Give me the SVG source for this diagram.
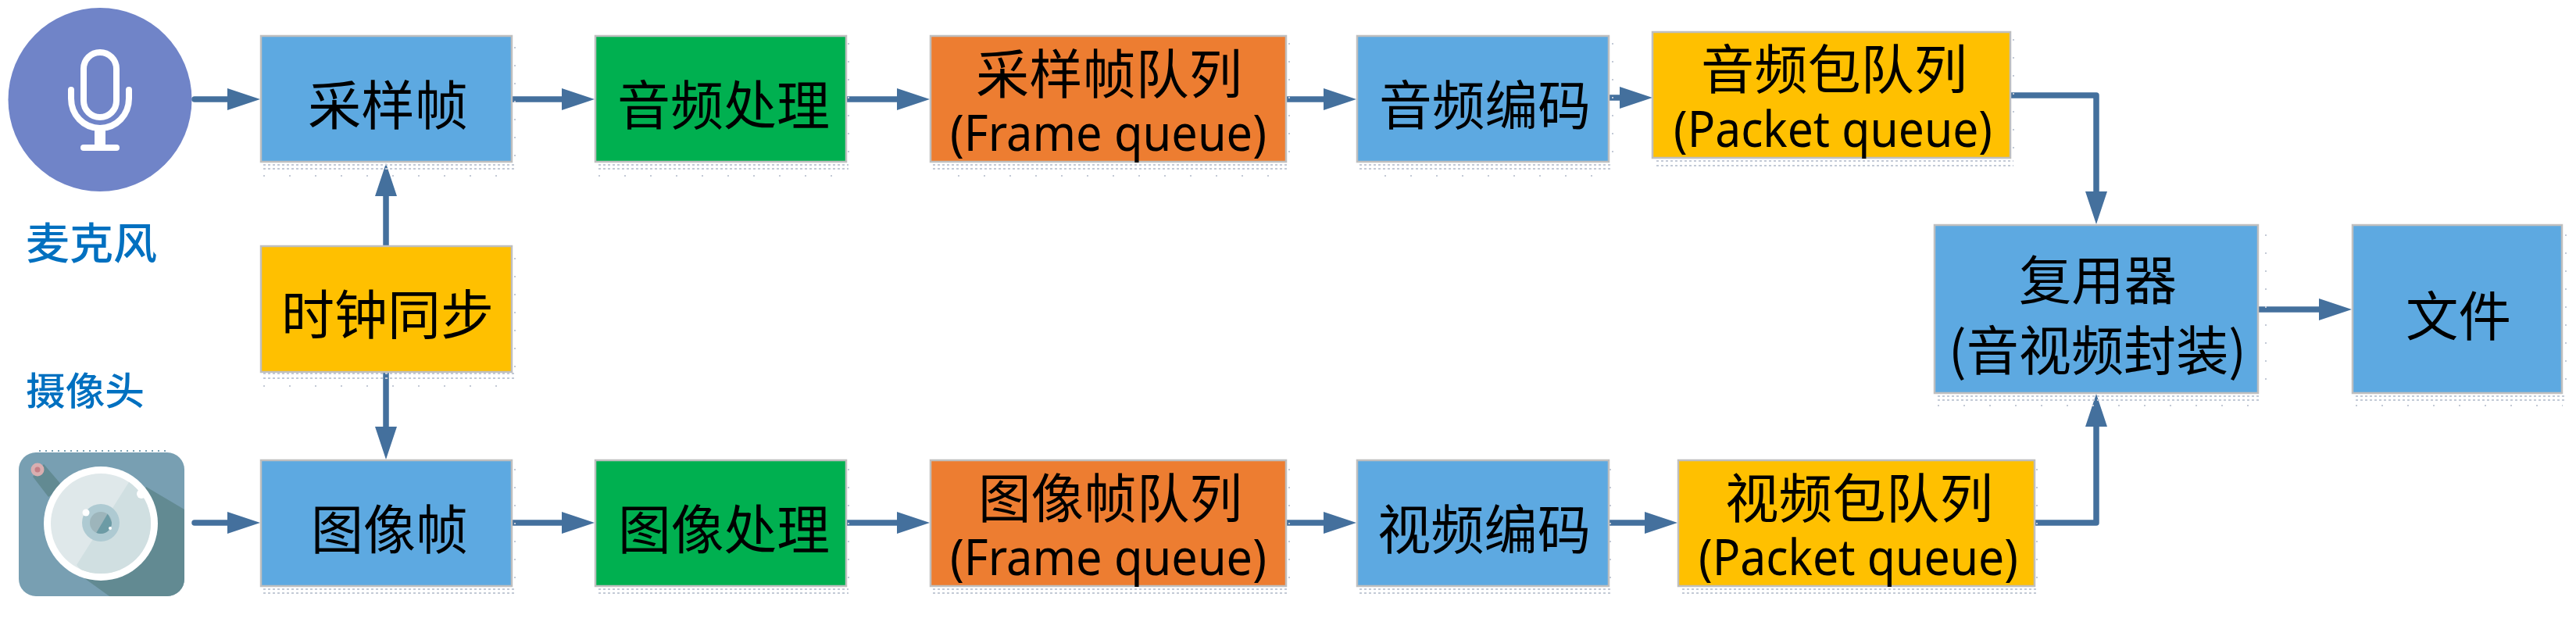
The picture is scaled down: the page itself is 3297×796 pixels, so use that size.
<svg xmlns="http://www.w3.org/2000/svg" width="3297" height="796" viewBox="0 0 3297 796">
<style>
.box{stroke:#BFBFBF;stroke-width:2.5}
.blue{fill:#5DA9E1}.green{fill:#00B050}.orange{fill:#ED7D31}.yellow{fill:#FFC000}
.cn{font-family:"Noto Sans CJK SC","Liberation Sans",sans-serif;font-size:68px;fill:#000}
.en{font-family:"Noto Sans","Open Sans",sans-serif;font-size:63px;fill:#000}
.cap{font-family:"Noto Sans CJK SC","Liberation Sans",sans-serif;font-weight:500;fill:#0070C0}
.conn{fill:none;stroke:#44709D;stroke-width:7.5;stroke-linecap:round;stroke-linejoin:round;marker-end:url(#head)}
.d1,.d2,.d3,.d4{fill:none;stroke:#C3CAD6;stroke-width:2}
.d1{stroke-dasharray:3 3}.d2{stroke-dasharray:2 6}.d3{stroke-dasharray:2 31}.d4{stroke-dasharray:2 21}
.icon{fill:none;stroke:#fff;stroke-width:8;stroke-linecap:round}
</style>
<defs>
<marker id="head" markerUnits="userSpaceOnUse" markerWidth="43" markerHeight="28" refX="0" refY="14" orient="auto">
<path d="M0 0L42 14L0 28z" fill="#44709D"/>
</marker>
<clipPath id="camClip"><rect x="24" y="579" width="212" height="184" rx="22"/></clipPath>
<clipPath id="discClip"><circle cx="129" cy="670" r="64"/></clipPath>
<clipPath id="pupilClip"><circle cx="129" cy="669" r="14"/></clipPath>
</defs>

<g id="microphone">
<circle cx="128" cy="127.5" r="117.5" fill="#7084C8"/>
<rect class="icon" x="107" y="67" width="42" height="83" rx="21"/>
<path class="icon" d="M91 115V126C91 147 107 164 128 164C149 164 165 147 165 126V115"/>
<path d="M128 164V188" fill="none" stroke="#fff" stroke-width="14"/>
<path class="icon" d="M107 189H149"/>
<text class="cap" x="33" y="331" font-size="55" textLength="168" lengthAdjust="spacingAndGlyphs">麦克风</text>
</g>

<g id="camera">
<text class="cap" x="33" y="518" font-size="49" textLength="152" lengthAdjust="spacingAndGlyphs">摄像头</text>
<path class="d2" d="M50 577H212" style="stroke:#789FB2"/>
<rect x="24" y="579" width="212" height="184" rx="22" fill="#789FB2"/>
<g clip-path="url(#camClip)">
<path d="M187 623L236 652V763H140L108 740z" fill="#628A92"/>
<path d="M42 610L56 594L80 622L62 636z" fill="#628A92"/>
</g>
<circle cx="48" cy="601" r="8.5" fill="#D9AEB0"/>
<circle cx="48" cy="601" r="3.5" fill="#C47F86"/>
<circle cx="129" cy="670" r="73" fill="#fff"/>
<circle cx="129" cy="670" r="64" fill="#DFE8EA"/>
<path d="M165 617L98 723L130 760L220 720V620z" clip-path="url(#discClip)" fill="#D0DFE1"/>
<circle cx="129" cy="669" r="24" fill="#AECAD2"/>
<circle cx="129" cy="669" r="14" fill="#9DB5BB"/>
<path d="M138 657L122 684L150 684z" clip-path="url(#pupilClip)" fill="#6C9BA5"/>
<circle cx="110" cy="656" r="4.5" fill="#fff"/>
<circle cx="141" cy="676" r="2" fill="#fff"/>
<circle cx="181" cy="632" r="6" fill="#fff"/>
</g>

<g id="connectors">
<path class="conn" d="M249 127H291"/>
<path class="conn" d="M655 127H719"/>
<path class="conn" d="M1083 127H1148"/>
<path class="conn" d="M1645 127H1694"/>
<path class="conn" d="M2058 125H2073"/>
<path class="conn" d="M2573 122H2683V245"/>
<path class="conn" d="M249 669H291"/>
<path class="conn" d="M655 669H719"/>
<path class="conn" d="M1083 669H1148"/>
<path class="conn" d="M1645 669H1694"/>
<path class="conn" d="M2059 669H2105"/>
<path class="conn" d="M2604 669H2683V546"/>
<path class="conn" d="M494 316V251"/>
<path class="conn" d="M494 476V546"/>
<path class="conn" d="M2889 396H2968"/>
</g>

<g id="sample-frame">
<path class="d1" d="M337 211H660M337 216H660"/><path class="d3" d="M337 225H645"/><path class="d4" d="M659 60V200"/>
<rect class="box blue" x="334" y="46" width="321" height="161"/>
<text class="cn" x="394" y="160" textLength="205" lengthAdjust="spacingAndGlyphs">采样帧</text>
</g>
<g id="audio-process">
<path class="d1" d="M766 211H1086M766 216H1086"/><path class="d3" d="M766 225H1075"/><path class="d4" d="M1086 55V200"/>
<rect class="box green" x="762" y="46" width="321" height="161"/>
<text class="cn" x="790" y="160" textLength="272" lengthAdjust="spacingAndGlyphs">音频处理</text>
</g>
<g id="sample-queue">
<path class="d1" d="M1194 211H1650M1194 216H1650"/><path class="d3" d="M1226 225H1630"/><path class="d4" d="M1650 55V200"/>
<rect class="box orange" x="1191" y="46" width="455" height="161"/>
<text class="cn" x="1249" y="120" textLength="341" lengthAdjust="spacingAndGlyphs">采样帧队列</text>
<text class="en" x="1216" y="193" textLength="405" lengthAdjust="spacingAndGlyphs">(Frame queue)</text>
</g>
<g id="audio-encode">
<path class="d1" d="M1740 211H2063M1740 216H2063"/><path class="d3" d="M1772 225H2045"/><path class="d4" d="M2064 55V200"/>
<rect class="box blue" x="1737" y="46" width="322" height="161"/>
<text class="cn" x="1765" y="160" textLength="271" lengthAdjust="spacingAndGlyphs">音频编码</text>
</g>
<g id="audio-packet-queue">
<path class="d1" d="M2120 206H2577M2120 212H2577"/><path class="d4" d="M2577 50V195"/>
<rect class="box yellow" x="2115" y="41" width="458" height="161"/>
<text class="cn" x="2177" y="114" textLength="341" lengthAdjust="spacingAndGlyphs">音频包队列</text>
<text class="en" x="2142" y="188" textLength="408" lengthAdjust="spacingAndGlyphs">(Packet queue)</text>
</g>
<g id="clock-sync">
<path class="d1" d="M337 478H660M337 484H660"/><path class="d3" d="M337 494H645"/><path class="d4" d="M659 330V470"/>
<rect class="box yellow" x="334" y="315" width="321" height="161"/>
<text class="cn" x="360" y="428" textLength="272" lengthAdjust="spacingAndGlyphs">时钟同步</text>
</g>
<g id="image-frame">
<path class="d1" d="M337 754H660M337 759H660"/><path class="d4" d="M659 600V745"/>
<rect class="box blue" x="334" y="589" width="321" height="161"/>
<text class="cn" x="398" y="703" textLength="201" lengthAdjust="spacingAndGlyphs">图像帧</text>
</g>
<g id="image-process">
<path class="d1" d="M766 754H1086M766 759H1086"/><path class="d4" d="M1086 600V745"/>
<rect class="box green" x="762" y="589" width="321" height="161"/>
<text class="cn" x="791" y="703" textLength="271" lengthAdjust="spacingAndGlyphs">图像处理</text>
</g>
<g id="image-queue">
<path class="d1" d="M1194 754H1650M1194 759H1650"/><path class="d4" d="M1650 600V745"/>
<rect class="box orange" x="1191" y="589" width="455" height="161"/>
<text class="cn" x="1252" y="663" textLength="338" lengthAdjust="spacingAndGlyphs">图像帧队列</text>
<text class="en" x="1216" y="736" textLength="405" lengthAdjust="spacingAndGlyphs">(Frame queue)</text>
</g>
<g id="video-encode">
<path class="d1" d="M1740 754H2063M1740 759H2063"/><path class="d4" d="M2061 600V745"/>
<rect class="box blue" x="1737" y="589" width="322" height="161"/>
<text class="cn" x="1763" y="703" textLength="273" lengthAdjust="spacingAndGlyphs">视频编码</text>
</g>
<g id="video-packet-queue">
<path class="d1" d="M2153 754H2608M2153 759H2608"/><path class="d4" d="M2607 600V745"/>
<rect class="box yellow" x="2148" y="589" width="456" height="161"/>
<text class="cn" x="2208" y="663" textLength="343" lengthAdjust="spacingAndGlyphs">视频包队列</text>
<text class="en" x="2174" y="736" textLength="409" lengthAdjust="spacingAndGlyphs">(Packet queue)</text>
</g>
<g id="muxer">
<path class="d1" d="M2480 507H2892M2480 512H2892"/><path class="d3" d="M2480 519H2890"/><path class="d4" d="M2900 300V500"/>
<rect class="box blue" x="2476" y="288" width="414" height="215"/>
<text class="cn" x="2584" y="384" textLength="202" lengthAdjust="spacingAndGlyphs">复用器</text>
<text class="cn" x="2494" y="474" textLength="381" lengthAdjust="spacingAndGlyphs">(音视频封装)</text>
</g>
<g id="file">
<path class="d1" d="M3015 507H3284M3015 512H3284"/><path class="d3" d="M3015 519H3280"/><path class="d4" d="M3284 300V500"/>
<rect class="box blue" x="3011" y="288" width="268" height="215"/>
<text class="cn" x="3079" y="430" textLength="135" lengthAdjust="spacingAndGlyphs">文件</text>
</g>
</svg>
